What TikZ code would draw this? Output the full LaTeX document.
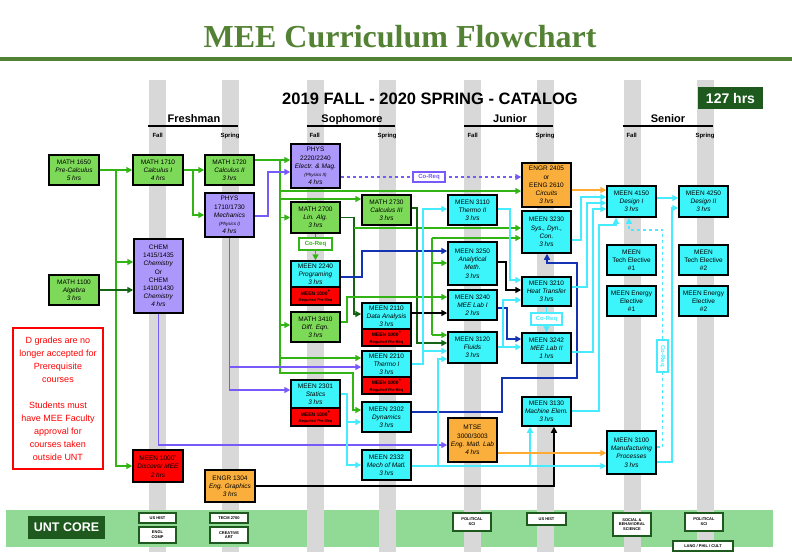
\documentclass[tikz,border=0pt]{standalone}
\usepackage{fontspec}
\usepackage{graphicx}
\setmainfont{Liberation Sans}
\newfontfamily\titlefont{Liberation Serif}
\usetikzlibrary{arrows.meta}
\definecolor{cgreen}{RGB}{125,218,88}
\definecolor{cpurple}{RGB}{172,152,250}
\definecolor{ccyan}{RGB}{60,245,250}
\definecolor{corange}{RGB}{250,175,60}
\definecolor{cred}{RGB}{255,0,0}
\definecolor{clg}{RGB}{50,180,20}
\definecolor{cdg}{RGB}{20,100,20}
\definecolor{clp}{RGB}{120,90,250}
\definecolor{clb}{RGB}{20,50,180}
\definecolor{clc}{RGB}{70,235,255}
\definecolor{clo}{RGB}{255,170,50}
\definecolor{ctitle}{RGB}{84,130,53}
\definecolor{ccore}{RGB}{144,218,150}
\definecolor{cdark}{RGB}{30,90,30}
\definecolor{cband}{RGB}{216,216,216}
\newcommand{\nodefont}{\fontsize{6.5}{8.2}\selectfont}
\tikzset{
  nb/.style={draw=black, line width=1.5pt, align=center, inner sep=0pt, font=\nodefont, minimum width=49, text=black},
  gb/.style={nb, fill=cgreen},
  pb/.style={nb, fill=cpurple},
  cb/.style={nb, fill=ccyan},
  ob/.style={nb, fill=corange},
  rb/.style={nb, fill=cred, font=\fontsize{5}{6.6}\selectfont},
  ar/.style={-{Triangle[length=6pt,width=6pt]}},
  lg/.style={line width=1.6pt, draw=clg},
  dg/.style={line width=1.6pt, draw=cdg},
  lp/.style={line width=1.6pt, draw=clp},
  lb/.style={line width=1.6pt, draw=clb},
  lk/.style={line width=1.6pt, draw=black},
  lc/.style={line width=1.6pt, draw=clc},
  lo/.style={line width=1.6pt, draw=clo},
  cq/.style={line width=1.2pt, fill=white, inner sep=0pt, font=\bfseries\fontsize{6}{6}\selectfont},
  corebox/.style={draw=cdark, line width=1.5pt, fill=white, inner sep=0pt, align=center, font=\bfseries\fontsize{4}{4.8}\selectfont},
  yr/.style={font=\bfseries\fontsize{11}{11}\selectfont, anchor=base},
  sem/.style={font=\bfseries\fontsize{6}{6}\selectfont, anchor=base},
}
\newcommand{\req}{\textbf{MEEN 1000\textsuperscript{*}}\\{\fontsize{4}{4}\selectfont\bfseries\itshape Required Pre-Req}}
\begin{document}
\begin{tikzpicture}[x=1pt,y=-1pt]
\useasboundingbox (0,0) rectangle (792,552);
\fill[white] (0,0) rectangle (792,552);
% title
\node[font=\titlefont\bfseries\fontsize{32}{32}\selectfont, text=ctitle, anchor=base] (title) at (400,47) {MEE Curriculum Flowchart};
\draw[ctitle, line width=4pt] (0,59) -- (792,59);
% bands
\foreach \x in {157,230,315,387,472,545,632,705} \fill[cband] (\x-8.5,80) rectangle (\x+8.5,552);
\fill[ccore] (6,510) rectangle (773,547);
\foreach \x in {315,387,472,545,632,705} \fill[cband] (\x-8.5,510) rectangle (\x+8.5,547);
% headers
\node[font=\bfseries\fontsize{16.5}{16.5}\selectfont, anchor=base] (cat) at (430,104.5) {2019 FALL - 2020 SPRING - CATALOG};
\node[fill=cdark, minimum width=65, minimum height=22, inner sep=0pt, text=white, font=\bfseries\fontsize{14}{14}\selectfont] (hrs) at (730.5,98) {127 hrs};
\node[yr] (fr) at (194,122) {Freshman};
\node[yr] (so) at (352,122) {Sophomore};
\node[yr] (ju) at (510,122) {Junior};
\node[yr] (se) at (668,122) {Senior};
\draw[line width=1.2pt] (148,126) -- (238,126);
\draw[line width=1.2pt] (307,126) -- (395,126);
\draw[line width=1.2pt] (464,126) -- (553,126);
\draw[line width=1.2pt] (623,126) -- (713,126);
\foreach \x/\n in {149/f1,306/f2,464/f3,623/f4} \node[sem, anchor=base west] (\n) at (\x,137) {Fall};
\foreach \x/\n in {230/s1,387/s2,545/s3,705/s4} \node[sem] (\n) at (\x,137) {Spring};
% freshman
\node[gb, minimum width=50, minimum height=30] (m1650) at (74,170) {MATH 1650\\\textit{Pre-Calculus}\\\textit{5 hrs}};
\node[gb, minimum width=50, minimum height=30] (m1710) at (158,170) {MATH 1710\\\textit{Calculus I}\\\textit{4 hrs}};
\node[gb, minimum width=50, minimum height=30] (m1100) at (74,290) {MATH 1100\\\textit{Algebra}\\\textit{3 hrs}};
\node[pb, minimum height=74] (chem) at (158.5,276) {CHEM\\1415/1435\\\textit{Chemistry}\\Or\\CHEM\\1410/1430\\\textit{Chemistry}\\\textit{4 hrs}};
\node[nb, fill=cred, minimum width=50, minimum height=32] (d1000) at (158,466) {MEEN 1000\textsuperscript{*}\\\textit{Discover MEE}\\\textit{2 hrs}};
\node[draw=cred, line width=1.2pt, fill=white, text=cred, minimum width=90, minimum height=141, inner sep=0pt, align=center, font=\fontsize{9}{13}\selectfont] (note) at (58,398.5) {D grades are no\\longer accepted for\\Prerequisite\\courses\\[13pt]Students must\\have MEE Faculty\\approval for\\courses taken\\outside UNT};
\node[gb, minimum height=30] (m1720) at (229.5,170) {MATH 1720\\\textit{Calculus II}\\\textit{3 hrs}};
\node[pb, minimum height=44] (p1710) at (229.5,215) {PHYS\\1710/1730\\\textit{Mechanics}\\{\fontsize{4.5}{5}\selectfont\textit{(Physics I)}}\\\textit{4 hrs}};
\node[ob, minimum width=50, minimum height=32] (e1304) at (230,486) {ENGR 1304\\\textit{Eng. Graphics}\\\textit{3 hrs}};
% sophomore
\node[pb, minimum height=44] (p2220) at (315.5,166) {PHYS\\2220/2240\\\textit{Electr. \& Mag.}\\{\fontsize{4.5}{5}\selectfont\textit{(Physics II)}}\\\textit{4 hrs}};
\node[gb, minimum height=31] (m2700) at (315.5,217.5) {MATH 2700\\\textit{Lin. Alg.}\\\textit{3 hrs}};
\node[cq, draw=clg, text=clg, minimum width=33, minimum height=12] (cqg) at (315.5,244) {Co-Req};
\node[cb, minimum height=26] (e2240) at (315.5,274) {MEEN 2240\\\textit{Programing}\\\textit{3 hrs}};
\node[rb, minimum height=18] (r2240) at (315.5,296) {\req};
\node[gb, minimum height=30] (m3410) at (315.5,327) {MATH 3410\\\textit{Diff. Eqn.}\\\textit{3 hrs}};
\node[cb, minimum height=28] (e2301) at (315.5,394) {MEEN 2301\\\textit{Statics}\\\textit{3 hrs}};
\node[rb, minimum height=18] (r2301) at (315.5,417) {\req};
\node[gb, minimum height=30] (m2730) at (386.5,210) {MATH 2730\\\textit{Calculus III}\\\textit{3 hrs}};
\node[cb, minimum height=26] (e2110) at (386.5,316) {MEEN 2110\\\textit{Data Analysis}\\\textit{3 hrs}};
\node[rb, minimum height=17] (r2110) at (386.5,337.5) {\req};
\node[cb, minimum height=26] (e2210) at (386.5,364) {MEEN 2210\\\textit{Thermo I}\\\textit{3 hrs}};
\node[rb, minimum height=17] (r2210) at (386.5,385.5) {\req};
\node[cb, minimum height=30] (e2302) at (386.5,417) {MEEN 2302\\\textit{Dynamics}\\\textit{3 hrs}};
\node[cb, minimum height=30] (e2332) at (386.5,465) {MEEN 2332\\\textit{Mech of Matl.}\\\textit{3 hrs}};
% junior
\node[cb, minimum height=30] (e3110) at (472.5,210) {MEEN 3110\\\textit{Thermo II}\\\textit{3 hrs}};
\node[cb, minimum height=43] (e3250) at (472.5,263.5) {MEEN 3250\\\textit{Analytical}\\\textit{Meth.}\\\textit{3 hrs}};
\node[cb, minimum height=30] (e3240) at (472.5,305) {MEEN 3240\\\textit{MEE Lab I}\\\textit{2 hrs}};
\node[cb, minimum height=31] (e3120) at (472.5,347.5) {MEEN 3120\\\textit{Fluids}\\\textit{3 hrs}};
\node[ob, minimum height=44] (mtse) at (472.5,440) {MTSE\\3000/3003\\\textit{Eng. Matl. Lab}\\\textit{4 hrs}};
\node[ob, minimum height=44] (e2405) at (546.5,185) {ENGR 2405\\or\\EENG 2610\\\textit{Circuits}\\\textit{3 hrs}};
\node[cb, minimum height=42] (e3230) at (546.5,232) {MEEN 3230\\\textit{Sys., Dyn.,}\\\textit{Con.}\\\textit{3 hrs}};
\node[cb, minimum height=29] (e3210) at (546.5,291.5) {MEEN 3210\\\textit{Heat Transfer}\\\textit{3 hrs}};
\node[cq, draw=clc, text=clc, minimum width=31, minimum height=12] (cqc) at (546.5,319) {Co-Req};
\node[cb, minimum height=30] (e3242) at (546.5,348) {MEEN 3242\\\textit{MEE Lab II}\\\textit{1 hrs}};
\node[cb, minimum height=29] (e3130) at (546.5,411.5) {MEEN 3130\\\textit{Machine Elem.}\\\textit{3 hrs}};
% senior
\node[cb, minimum height=31] (e4150) at (631.5,201.5) {MEEN 4150\\\textit{Design I}\\\textit{3 hrs}};
\node[cb, minimum height=30] (te1) at (631.5,260) {MEEN\\Tech Elective\\\#1};
\node[cb, minimum height=30] (ee1) at (631.5,301) {MEEN Energy\\Elective\\\#1};
\node[cb, minimum height=43] (e3100) at (631.5,452.5) {MEEN 3100\\\textit{Manufacturing}\\\textit{Processes}\\\textit{3 hrs}};
\node[cb, minimum height=31] (e4250) at (703.5,201.5) {MEEN 4250\\\textit{Design II}\\\textit{3 hrs}};
\node[cb, minimum height=30] (te2) at (703.5,260) {MEEN\\Tech Elective\\\#2};
\node[cb, minimum height=30] (ee2) at (703.5,301) {MEEN Energy\\Elective\\\#2};
\node[cq, draw=clc, text=clc, minimum width=11, minimum height=32] (cqv) at (662.5,356) {\rotatebox{-90}{Co-Req}};
% core
\node[fill=cdark, minimum width=77, minimum height=23, inner sep=0pt, text=white, font=\bfseries\fontsize{12.5}{12.5}\selectfont] (core) at (66.5,527.5) {UNT CORE};
\node[corebox, minimum width=37, minimum height=10] (k1) at (157.5,518) {US HIST};
\node[corebox, minimum width=37, minimum height=16] (k2) at (157.5,535) {ENGL\\COMP};
\node[corebox, minimum width=38, minimum height=10] (k3) at (229,518) {TECM 2700};
\node[corebox, minimum width=38, minimum height=16] (k4) at (229,535) {CREATIVE\\ART};
\node[corebox, minimum width=38, minimum height=18] (k5) at (472,522) {POLITICAL\\SCI};
\node[corebox, minimum width=39, minimum height=12] (k6) at (546.5,519) {US HIST};
\node[corebox, minimum width=38, minimum height=23] (k7) at (632,524.5) {SOCIAL \&\\BEHAVIORAL\\SCIENCE};
\node[corebox, minimum width=38, minimum height=18] (k8) at (704,522) {POLITICAL\\SCI};
\node[corebox, minimum width=60, minimum height=10] (k9) at (703,546) {LANG / PHIL / CULT};
% ---- connectors: green
\draw[lg,ar] (m1650.east) -- (m1710.west);
\draw[lg,ar] (116,170) |- (d1000.west);
\draw[lg,ar] (116,262) -- (chem.west |- 0,262);
\draw[dg,ar] (m1100.east) -- (chem.west |- m1100.east);
\draw[lg,ar] (m1710.east) -- (m1720.west);
\draw[lg,ar] (193,170) |- (p1710.west);
\draw[lg,ar] (m1720.east |- 0,160) -- (p2220.west |- 0,160);
\draw[lg,ar] (280,160) -- (280,373) -- (353,373) -- (353,410) -- (e2302.west |- 0,410);
\draw[lg,ar] (280,191) -- (e2405.west |- 0,191);
\draw[lg,ar] (280,199) -- (m2730.west |- 0,199);
\draw[lg,ar] (280,217.5) -- (m2700.west);
\draw[lg,ar] (280,325) -- (m3410.west |- 0,325);
\draw[lg,ar] (280,358) -- (e2210.west |- 0,358);
\draw[lg,dashed] (m2700.south) -- (cqg.north);
\draw[lg,dashed,ar] (cqg.south) -- (e2240.north);
\draw[dg,ar] (m2700.east) -- (354,217.5) -- (354,314) -- (e2110.west |- 0,314);
\draw[lg,ar] (354,228) -- (e3230.west |- 0,228);
\draw[dg,ar] (m2730.east |- 0,208) -- (417,208) -- (417,343) -- (e3120.west |- 0,343);
\draw[lg,ar] (m3410.east |- 0,322) -- (347,322) -- (347,297) -- (e3240.west |- 0,297);
\draw[lg] (432,238) -- (432,335);
\draw[lg,ar] (432,238) -- (e3230.west |- 0,238);
\draw[lg,ar] (432,263) -- (e3250.west |- 0,263);
\draw[lg,ar] (432,335) -- (e3120.west |- 0,335);
% purple
\draw[lp,ar] (p1710.east |- 0,216) -- (268,216) -- (268,172) -- (p2220.west |- 0,172);
\draw[lp,ar] (p1710.south) -- (229.5,390) -- (e2301.west |- 0,390);
\draw[lp,ar] (229.5,367) -- (e2210.west |- 0,367);
\draw[lp,ar] (chem.south) -- (158.5,445) -- (mtse.west |- 0,445);
\draw[lp,dashed,ar] (p2220.east |- 0,177) -- (e2405.west |- 0,177);
\node[cq, draw=clp, text=clp, minimum width=32, minimum height=10] (cqp) at (429,177) {Co-Req};
% blue
\draw[lb,ar] (e2240.east |- 0,277) -- (362,277) -- (362,251) -- (e3250.west |- 0,251);
\draw[lb,ar] (e3240.east |- 0,308) -- (507,308) -- (507,339) -- (e3242.west |- 0,339);
\draw[lb,ar] (e2302.east |- 0,412) -- (502,412) -- (502,378) -- (577,378) -- (577,263) -- (547,263) -- (e3230.south -| 547,0);
% black
\draw[lk,ar] (e3250.east |- 0,262) -- (506,262) -- (506,290) -- (e3210.west |- 0,290);
\draw[lk,ar] (e2110.east |- 0,313) -- (e3240.west |- 0,313);
\draw[lk,ar] (e1304.east) -- (554,486) -- (e3130.south -| 554,0);
% cyan
\draw[lc,ar] (e2301.east |- 0,394) -- (347,394) -- (347,465) -- (e2332.west);
\draw[lc,ar] (347,422) -- (e2302.west |- 0,422);
\draw[lc,ar] (e2332.east |- 0,466) -- (e3100.west |- 0,466);
\draw[lc,ar] (438,466) -- (438,359) -- (e3120.west |- 0,359);
\draw[lc,ar] (530,466) -- (e3130.south -| 530,0);
\draw[lc,ar] (e2210.east |- 0,364) -- (423,364) -- (423,209) -- (e3110.west |- 0,209);
\draw[lc,ar] (423,351) -- (e3120.west |- 0,351);
\draw[lc,ar] (e3110.east |- 0,209) -- (510,209) -- (510,280) -- (e3210.west |- 0,280);
\draw[lc,ar] (e3120.east |- 0,347) -- (e3242.west |- 0,347);
\draw[lc,ar] (503,347) -- (503,300) -- (e3210.west |- 0,300);
\draw[lc] (e3210.south) -- (cqc.north);
\draw[lc,ar] (cqc.south) -- (e3242.north);
\draw[lc,ar] (e3230.east |- 0,240) -- (581,240) -- (581,197) -- (e4150.west |- 0,197);
\draw[lc,ar] (e3210.east |- 0,287) -- (587,287) -- (587,203) -- (e4150.west |- 0,203);
\draw[lc,ar] (e3242.east |- 0,352) -- (593,352) -- (593,209) -- (e4150.west |- 0,209);
\draw[lc,ar] (e3130.east |- 0,411) -- (599,411) -- (599,225) -- (616,225) -- (e4150.south -| 616,0);
\draw[lc,ar] (e4150.east |- 0,198) -- (e4250.west |- 0,198);
\draw[lc,ar] (e3100.east |- 0,462) -- (672,462) -- (672,208) -- (e4250.west |- 0,208);
\draw[lc,dashed] (e3100.east |- 0,447) -- (662.5,447) -- (cqv.south);
\draw[lc,dashed,ar] (cqv.north) -- (662.5,230) -- (629,230) -- (e4150.south -| 629,0);
% orange
\draw[lo,ar] (e2405.east |- 0,190) -- (e4150.west |- 0,190);
\draw[lo,ar] (mtse.east |- 0,453) -- (e3100.west |- 0,453);
\end{tikzpicture}
\end{document}
